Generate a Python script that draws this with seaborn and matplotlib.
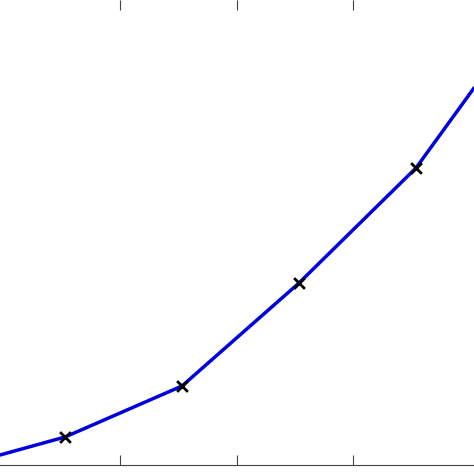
import matplotlib
matplotlib.use("Agg")
import matplotlib.pyplot as plt
import seaborn as sns

sns.set_style("white")

# line values
line_x = [0.444, 1, 2, 3, 4, 4.496]
line_y = [10, 28, 79, 182, 297, 377]
marker_x = [1, 2, 3, 4]
marker_y = [28, 79, 182, 297]
xticks = [1.47, 2.47, 3.46]

fig = plt.figure(figsize=(4.74, 4.74), dpi=100)
ax = fig.add_axes([0, 9 / 474, 1, 465 / 474])

sns.lineplot(x=line_x, y=line_y, ax=ax, color="#0000dd", linewidth=2.5)
sns.scatterplot(x=marker_x, y=marker_y, ax=ax, marker="x", color="black",
                s=60, linewidth=2, zorder=3)

ax.set_xlim(0.444, 4.496)
ax.set_ylim(0, 465)
ax.set_xticks(xticks)
ax.set_xticklabels([])
ax.set_yticks([])
ax.tick_params(axis="x", direction="in", length=7, top=True, bottom=True, color="#444444")
for name, s in ax.spines.items():
    s.set_color("#444444")
    s.set_linewidth(0.8)
    s.set_visible(name == "bottom")

fig.savefig("out.png", dpi=100)
